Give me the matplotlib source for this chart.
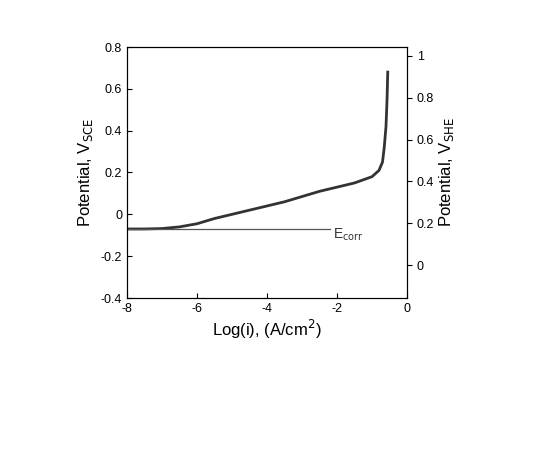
import matplotlib.pyplot as plt

plt.rcParams['font.family'] = ['Liberation Sans', 'DejaVu Sans']
plt.rcParams['axes.unicode_minus'] = False

# polarisation curve
log_i = [-8.0, -7.5, -7.0, -6.5, -6.0, -5.5, -5.0, -4.5, -4.0, -3.5, -3.0, -2.5, -2.0, -1.5, -1.0, -0.8, -0.7, -0.65, -0.6, -0.57, -0.55]
pot = [-0.07, -0.07, -0.068, -0.06, -0.045, -0.02, 0.0, 0.02, 0.04, 0.06, 0.085, 0.11, 0.13, 0.15, 0.18, 0.21, 0.25, 0.32, 0.42, 0.55, 0.68]
ecorr_x = [-8.0, -2.2]
ecorr_y = -0.07
she_offset = 0.243

fig = plt.figure(figsize=(5.44, 4.69), dpi=100)
ax = fig.add_axes([127/544, 1-298/469, 280/544, 251/469])
ax.plot(log_i, pot, color='#333333', lw=2)
ax.plot(ecorr_x, [ecorr_y, ecorr_y], color='#555555', lw=0.9)
ax.text(-2.1, ecorr_y - 0.03, r'E$_{\rm corr}$', fontsize=10, color='#333333', va='center')
ax.set_xlim(-8, 0)
ax.set_ylim(-0.4, 0.8)
ax.set_xticks([-8, -6, -4, -2, 0])
ax.set_yticks([-0.4, -0.2, 0, 0.2, 0.4, 0.6, 0.8])
ax.set_yticklabels(['-0.4', '-0.2', '0', '0.2', '0.4', '0.6', '0.8'])
ax.set_xlabel('Log(i), (A/cm$^2$)', fontsize=12, labelpad=2)
ax.set_ylabel(r'Potential, V$_{\rm SCE}$', fontsize=12)
ax.tick_params(labelsize=9, direction='in')

ax2 = ax.twinx()
ax2.set_ylim(-0.4 + she_offset, 0.8 + she_offset)
ax2.set_yticks([0, 0.2, 0.4, 0.6, 0.8, 1.0])
ax2.set_yticklabels(['0', '0.2', '0.4', '0.6', '0.8', '1'])
ax2.set_ylabel(r'Potential, V$_{\rm SHE}$', fontsize=12, labelpad=2)
ax2.tick_params(labelsize=9, direction='out')

fig.savefig('out.png', dpi=100)
